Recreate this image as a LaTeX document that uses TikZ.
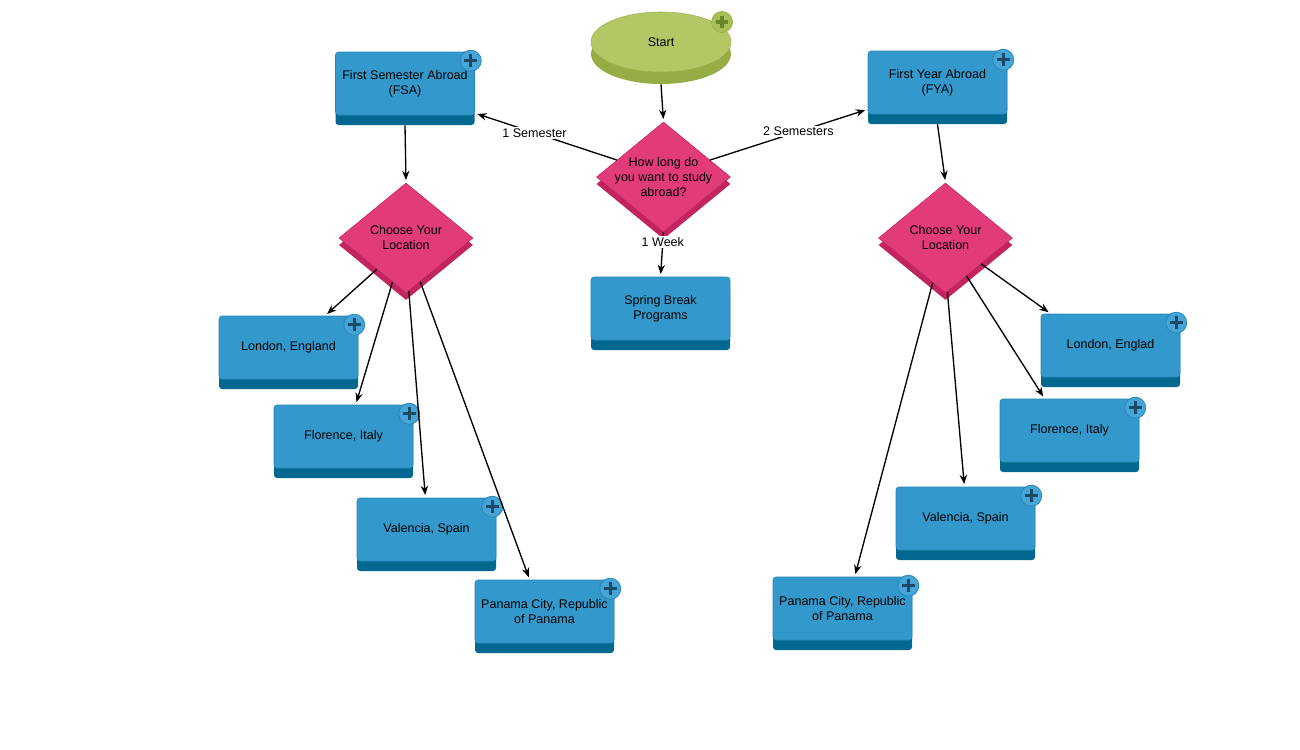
\documentclass[tikz,border=0pt]{standalone}
\usepackage{fontspec}
\setmainfont{Liberation Sans}
\usetikzlibrary{shapes.geometric,arrows.meta,calc}
\definecolor{bface}{HTML}{3399CC}
\definecolor{bdark}{HTML}{036890}
\definecolor{bedge}{HTML}{2A86B8}
\definecolor{bplusfill}{HTML}{45A5D6}
\definecolor{bplussign}{HTML}{1C4A66}
\definecolor{pface}{HTML}{E23B7A}
\definecolor{pdark}{HTML}{C2245D}
\definecolor{gface}{HTML}{B3C864}
\definecolor{gdark}{HTML}{96AD46}
\definecolor{gedge}{HTML}{9DB24E}
\definecolor{gplusfill}{HTML}{A8C05A}
\definecolor{gplussign}{HTML}{6A862C}
\tikzset{
 txt/.style={font=\fontsize{9.4}{11.25}\selectfont},
 box/.style={rectangle, rounded corners=2.25pt, fill=bface, draw=bedge, line width=0.4pt,
   minimum width=104.25pt, minimum height=47.25pt, inner sep=0pt, align=center, txt,
   preaction={fill=bdark, transform canvas={yshift=-7.5pt}}},
 dia/.style={diamond, fill=pface, draw=pdark, line width=0.4pt, minimum width=100.5pt,
   minimum height=82.5pt, inner sep=0pt,
   preaction={fill=pdark, transform canvas={yshift=-5.25pt}}},
 diatext/.style={align=center, inner sep=0pt, txt},
 startnode/.style={ellipse, fill=gface, draw=gedge, line width=0.4pt, minimum width=105pt,
   minimum height=45pt, inner sep=0pt, txt,
   preaction={fill=gdark, transform canvas={yshift=-9pt}}},
 plusbase/.style={circle, minimum size=15.75pt, inner sep=0pt, line width=0.6pt},
 bplus/.style={plusbase, fill=bplusfill, draw=bedge,
   path picture={\draw[line width=2.5pt, bplussign]
     ([xshift=-4.8pt]path picture bounding box.center) -- ([xshift=4.8pt]path picture bounding box.center)
     ([yshift=-4.8pt]path picture bounding box.center) -- ([yshift=4.8pt]path picture bounding box.center);}},
 gplus/.style={plusbase, fill=gplusfill, draw=gedge,
   path picture={\draw[line width=2.5pt, gplussign]
     ([xshift=-4.8pt]path picture bounding box.center) -- ([xshift=4.8pt]path picture bounding box.center)
     ([yshift=-4.8pt]path picture bounding box.center) -- ([yshift=4.8pt]path picture bounding box.center);}},
 conn/.style={-{Stealth[length=7pt,width=5.5pt]}, line width=1pt, shorten >=2pt},
 elabel/.style={fill=white, inner sep=1pt, txt}
}
\begin{document}
\begin{tikzpicture}[x=0.75pt, y=-0.75pt]
\useasboundingbox (0,0) rectangle (1300,750);

% start
\node[startnode] (start) at (661,42) {Start};
\node[gplus] (startplus) at (722,22) {};

% central decision
\node[dia] (q) at (663.5,177) {};
\node[diatext] (qt) at (q.center) {How long do\\you want to study\\abroad?};

% top boxes
\node[box] (fsa) at (405,83.5) {First Semester Abroad\\(FSA)};
\node[box] (fya) at (937.5,82.5) {First Year Abroad\\(FYA)};
\node[box] (spring) at (660.5,308.5) {Spring Break\\Programs};

% location decisions
\node[dia] (ld) at (406,238) {};
\node[diatext] (ldt) at (ld.center) {Choose Your\\Location};
\node[dia] (rd) at (945.5,238) {};
\node[diatext] (rdt) at (rd.center) {Choose Your\\Location};

% left destinations
\node[box] (l1) at (288.5,347.5) {London, England};
\node[box] (l2) at (343.5,436.5) {Florence, Italy};
\node[box] (l3) at (426.5,529.5) {Valencia, Spain};
\node[box] (l4) at (544.5,611.5) {Panama City, Republic\\of Panama};

% right destinations
\node[box] (r1) at (1110.5,345.5) {London, Englad};
\node[box] (r2) at (1069.5,430.5) {Florence, Italy};
\node[box] (r3) at (965.5,518.5) {Valencia, Spain};
\node[box] (r4) at (842.5,608.5) {Panama City, Republic\\of Panama};

% plus icons
\foreach \n in {fsa,fya,l1,l2,l3,l4,r1,r2,r3,r4}
  \node[bplus] (\n-plus) at ([xshift=-3pt,yshift=-6.75pt]\n.north east) {};

% connectors
\draw[conn] ([yshift=-9pt]start.south) -- (q.north);
\draw[conn] (q.160) -- node[elabel, pos=0.58] {1 Semester} (fsa.-23);
\draw[conn] (q.20) -- node[elabel, pos=0.56] {2 Semesters} (fya.201);
\draw[conn] (q.south) -- node[elabel, pos=0.22] {1 Week} (spring.north);

\draw[conn] ([yshift=-7.5pt]fsa.south) -- (ld.north);
\draw[conn] ([yshift=-7.5pt]fya.south) -- (rd.north);

\draw[conn] (ld.-133) -- (l1.41);
\draw[conn] (ld.-107) -- (l2.69);
\draw[conn] (ld.-87) -- (l3.92);
\draw[conn] (ld.-72) -- (l4.115);

\draw[conn] (rd.-36) -- (r1.152);
\draw[conn] (rd.-61) -- (r2.128);
\draw[conn] (rd.-88) -- (r3.92);
\draw[conn] (rd.-106) -- (r4.69);
\end{tikzpicture}
\end{document}
